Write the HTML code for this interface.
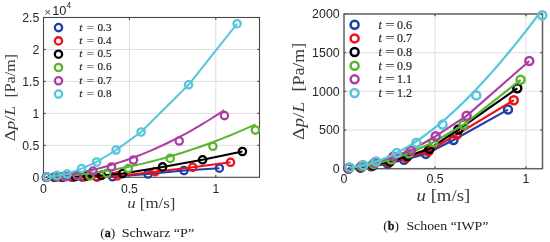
<!DOCTYPE html>
<html><head><meta charset="utf-8"><style>
html,body{margin:0;padding:0;background:#fff;width:550px;height:242px;overflow:hidden}
svg{display:block}
.tk{font-family:"Liberation Sans",Arial,sans-serif;fill:#262626}
.lg{font-family:"Liberation Serif","Times New Roman",serif;fill:#262626;stroke:#262626;stroke-width:0.2px}
.al{font-family:"Liberation Serif","Times New Roman",serif;fill:#3a3a3a}
.cap{font-family:"Liberation Serif","Times New Roman",serif;fill:#1a1a1a}
</style></head><body>
<svg width="550" height="242" viewBox="0 0 550 242">
<rect width="550" height="242" fill="#fff"/>
<line x1="129.4" y1="17.5" x2="129.4" y2="177.3" stroke="#dedede"/>
<line x1="215.8" y1="17.5" x2="215.8" y2="177.3" stroke="#dedede"/>
<line x1="43.5" y1="145.34" x2="259.5" y2="145.34" stroke="#dedede"/>
<line x1="43.5" y1="113.38" x2="259.5" y2="113.38" stroke="#dedede"/>
<line x1="43.5" y1="81.42" x2="259.5" y2="81.42" stroke="#dedede"/>
<line x1="43.5" y1="49.46" x2="259.5" y2="49.46" stroke="#dedede"/>
<line x1="43.5" y1="17.5" x2="259.5" y2="17.5" stroke="#dedede"/>
<rect x="43.5" y="17.5" width="216" height="159.8" fill="none" stroke="#474747" stroke-width="1.1"/>
<line x1="129.4" y1="177.3" x2="129.4" y2="175.1" stroke="#474747" stroke-width="1.1"/>
<line x1="129.4" y1="17.5" x2="129.4" y2="19.7" stroke="#474747" stroke-width="1.1"/>
<line x1="215.8" y1="177.3" x2="215.8" y2="175.1" stroke="#474747" stroke-width="1.1"/>
<line x1="215.8" y1="17.5" x2="215.8" y2="19.7" stroke="#474747" stroke-width="1.1"/>
<line x1="43.5" y1="145.34" x2="45.7" y2="145.34" stroke="#474747" stroke-width="1.1"/>
<line x1="259.5" y1="145.34" x2="257.3" y2="145.34" stroke="#474747" stroke-width="1.1"/>
<line x1="43.5" y1="113.38" x2="45.7" y2="113.38" stroke="#474747" stroke-width="1.1"/>
<line x1="259.5" y1="113.38" x2="257.3" y2="113.38" stroke="#474747" stroke-width="1.1"/>
<line x1="43.5" y1="81.42" x2="45.7" y2="81.42" stroke="#474747" stroke-width="1.1"/>
<line x1="259.5" y1="81.42" x2="257.3" y2="81.42" stroke="#474747" stroke-width="1.1"/>
<line x1="43.5" y1="49.46" x2="45.7" y2="49.46" stroke="#474747" stroke-width="1.1"/>
<line x1="259.5" y1="49.46" x2="257.3" y2="49.46" stroke="#474747" stroke-width="1.1"/>
<line x1="43.5" y1="17.5" x2="45.7" y2="17.5" stroke="#474747" stroke-width="1.1"/>
<line x1="259.5" y1="17.5" x2="257.3" y2="17.5" stroke="#474747" stroke-width="1.1"/>
<circle cx="58.5" cy="27.6" r="3.65" fill="none" stroke="#2140a4" stroke-width="2.3"/>
<text x="79.2" y="30.5" class="lg" style="font-size:11.2px;font-style:italic">t</text>
<text x="86.5" y="30.5" class="lg" style="font-size:11.2px;stroke:none" textLength="7.8" lengthAdjust="spacingAndGlyphs">=</text>
<text x="97.5" y="30.5" class="lg" style="font-size:11.2px">0.3</text>
<circle cx="58.5" cy="40.9" r="3.65" fill="none" stroke="#f0101c" stroke-width="2.3"/>
<text x="79.2" y="43.8" class="lg" style="font-size:11.2px;font-style:italic">t</text>
<text x="86.5" y="43.8" class="lg" style="font-size:11.2px;stroke:none" textLength="7.8" lengthAdjust="spacingAndGlyphs">=</text>
<text x="97.5" y="43.8" class="lg" style="font-size:11.2px">0.4</text>
<circle cx="58.5" cy="54.2" r="3.65" fill="none" stroke="#000000" stroke-width="2.3"/>
<text x="79.2" y="57.1" class="lg" style="font-size:11.2px;font-style:italic">t</text>
<text x="86.5" y="57.1" class="lg" style="font-size:11.2px;stroke:none" textLength="7.8" lengthAdjust="spacingAndGlyphs">=</text>
<text x="97.5" y="57.1" class="lg" style="font-size:11.2px">0.5</text>
<circle cx="58.5" cy="67.5" r="3.65" fill="none" stroke="#5ab52e" stroke-width="2.3"/>
<text x="79.2" y="70.4" class="lg" style="font-size:11.2px;font-style:italic">t</text>
<text x="86.5" y="70.4" class="lg" style="font-size:11.2px;stroke:none" textLength="7.8" lengthAdjust="spacingAndGlyphs">=</text>
<text x="97.5" y="70.4" class="lg" style="font-size:11.2px">0.6</text>
<circle cx="58.5" cy="80.8" r="3.65" fill="none" stroke="#ae3ca6" stroke-width="2.3"/>
<text x="79.2" y="83.7" class="lg" style="font-size:11.2px;font-style:italic">t</text>
<text x="86.5" y="83.7" class="lg" style="font-size:11.2px;stroke:none" textLength="7.8" lengthAdjust="spacingAndGlyphs">=</text>
<text x="97.5" y="83.7" class="lg" style="font-size:11.2px">0.7</text>
<circle cx="58.5" cy="94.1" r="3.65" fill="none" stroke="#57c6da" stroke-width="2.3"/>
<text x="79.2" y="97" class="lg" style="font-size:11.2px;font-style:italic">t</text>
<text x="86.5" y="97" class="lg" style="font-size:11.2px;stroke:none" textLength="7.8" lengthAdjust="spacingAndGlyphs">=</text>
<text x="97.5" y="97" class="lg" style="font-size:11.2px">0.8</text>
<polyline points="46.31,177.31 54.03,177.32 61.05,177.3 71.58,177.19 82.11,177.01 96.15,176.66 112.6,176.8 148.1,174 184,170.5 219.4,168.2" fill="none" stroke="#2140a4" stroke-width="2.0" stroke-linejoin="round"/>
<circle cx="219.4" cy="168.2" r="3.65" fill="none" stroke="#2140a4" stroke-width="2.3"/>
<circle cx="184" cy="170.5" r="3.65" fill="none" stroke="#2140a4" stroke-width="2.3"/>
<circle cx="148.1" cy="174" r="3.65" fill="none" stroke="#2140a4" stroke-width="2.3"/>
<circle cx="112.6" cy="176.8" r="3.65" fill="none" stroke="#2140a4" stroke-width="2.3"/>
<circle cx="96.15" cy="176.66" r="3.65" fill="none" stroke="#2140a4" stroke-width="2.3"/>
<circle cx="82.11" cy="177.01" r="3.65" fill="none" stroke="#2140a4" stroke-width="2.3"/>
<circle cx="71.58" cy="177.19" r="3.65" fill="none" stroke="#2140a4" stroke-width="2.3"/>
<circle cx="61.05" cy="177.3" r="3.65" fill="none" stroke="#2140a4" stroke-width="2.3"/>
<circle cx="54.03" cy="177.32" r="3.65" fill="none" stroke="#2140a4" stroke-width="2.3"/>
<circle cx="46.31" cy="177.31" r="3.65" fill="none" stroke="#2140a4" stroke-width="2.3"/>
<polyline points="46.49,177.33 54.72,177.37 62.2,177.35 73.42,177.21 84.64,176.94 97.2,177.1 117.5,175.9 155.2,171.7 192.7,167.3 230.5,162.3" fill="none" stroke="#f0101c" stroke-width="2.0" stroke-linejoin="round"/>
<circle cx="230.5" cy="162.3" r="3.65" fill="none" stroke="#f0101c" stroke-width="2.3"/>
<circle cx="192.7" cy="167.3" r="3.65" fill="none" stroke="#f0101c" stroke-width="2.3"/>
<circle cx="155.2" cy="171.7" r="3.65" fill="none" stroke="#f0101c" stroke-width="2.3"/>
<circle cx="117.5" cy="175.9" r="3.65" fill="none" stroke="#f0101c" stroke-width="2.3"/>
<circle cx="97.2" cy="177.1" r="3.65" fill="none" stroke="#f0101c" stroke-width="2.3"/>
<circle cx="84.64" cy="176.94" r="3.65" fill="none" stroke="#f0101c" stroke-width="2.3"/>
<circle cx="73.42" cy="177.21" r="3.65" fill="none" stroke="#f0101c" stroke-width="2.3"/>
<circle cx="62.2" cy="177.35" r="3.65" fill="none" stroke="#f0101c" stroke-width="2.3"/>
<circle cx="54.72" cy="177.37" r="3.65" fill="none" stroke="#f0101c" stroke-width="2.3"/>
<circle cx="46.49" cy="177.33" r="3.65" fill="none" stroke="#f0101c" stroke-width="2.3"/>
<polyline points="46.68,177.28 55.44,177.15 63.4,176.95 75.34,176.5 87.28,175.87 101.5,175.4 122.6,173.6 162.6,166.9 202.6,159.8 242.4,151.5" fill="none" stroke="#000000" stroke-width="2.0" stroke-linejoin="round"/>
<circle cx="242.4" cy="151.5" r="3.65" fill="none" stroke="#000000" stroke-width="2.3"/>
<circle cx="202.6" cy="159.8" r="3.65" fill="none" stroke="#000000" stroke-width="2.3"/>
<circle cx="162.6" cy="166.9" r="3.65" fill="none" stroke="#000000" stroke-width="2.3"/>
<circle cx="122.6" cy="173.6" r="3.65" fill="none" stroke="#000000" stroke-width="2.3"/>
<circle cx="101.5" cy="175.4" r="3.65" fill="none" stroke="#000000" stroke-width="2.3"/>
<circle cx="87.28" cy="175.87" r="3.65" fill="none" stroke="#000000" stroke-width="2.3"/>
<circle cx="75.34" cy="176.5" r="3.65" fill="none" stroke="#000000" stroke-width="2.3"/>
<circle cx="63.4" cy="176.95" r="3.65" fill="none" stroke="#000000" stroke-width="2.3"/>
<circle cx="55.44" cy="177.15" r="3.65" fill="none" stroke="#000000" stroke-width="2.3"/>
<circle cx="46.68" cy="177.28" r="3.65" fill="none" stroke="#000000" stroke-width="2.3"/>
<polyline points="46.89,177.15 51.15,176.94 55.41,176.68 59.66,176.4 63.92,176.07 68.18,175.71 72.44,175.32 76.69,174.89 80.95,174.42 85.21,173.91 89.47,173.38 93.72,172.8 97.98,172.19 102.24,171.54 106.49,170.86 110.75,170.14 115.01,169.39 119.27,168.6 123.52,167.77 127.78,166.91 132.04,166.01 136.3,165.08 140.55,164.11 144.81,163.1 149.07,162.06 153.32,160.98 157.58,159.87 161.84,158.72 166.1,157.53 170.35,156.31 174.61,155.06 178.87,153.76 183.13,152.43 187.38,151.07 191.64,149.67 195.9,148.23 200.16,146.76 204.41,145.25 208.67,143.71 212.93,142.13 217.18,140.51 221.44,138.86 225.7,137.17 229.96,135.45 234.21,133.69 238.47,131.9 242.73,130.07 246.99,128.2 251.24,126.3 255.5,124.36" fill="none" stroke="#5ab52e" stroke-width="2.0" stroke-linejoin="round"/>
<circle cx="255.4" cy="130.1" r="3.65" fill="none" stroke="#5ab52e" stroke-width="2.3"/>
<circle cx="212.9" cy="146.3" r="3.65" fill="none" stroke="#5ab52e" stroke-width="2.3"/>
<circle cx="170.2" cy="158.4" r="3.65" fill="none" stroke="#5ab52e" stroke-width="2.3"/>
<circle cx="128.3" cy="168.6" r="3.65" fill="none" stroke="#5ab52e" stroke-width="2.3"/>
<circle cx="106.8" cy="173.3" r="3.65" fill="none" stroke="#5ab52e" stroke-width="2.3"/>
<circle cx="90" cy="175.9" r="3.65" fill="none" stroke="#5ab52e" stroke-width="2.3"/>
<circle cx="77.42" cy="175.71" r="3.65" fill="none" stroke="#5ab52e" stroke-width="2.3"/>
<circle cx="64.7" cy="176.57" r="3.65" fill="none" stroke="#5ab52e" stroke-width="2.3"/>
<circle cx="56.22" cy="176.97" r="3.65" fill="none" stroke="#5ab52e" stroke-width="2.3"/>
<circle cx="46.89" cy="177.24" r="3.65" fill="none" stroke="#5ab52e" stroke-width="2.3"/>
<polyline points="47.12,177.03 50.73,176.71 54.35,176.35 57.96,175.95 61.58,175.5 65.2,175.01 68.81,174.47 72.43,173.89 76.04,173.27 79.66,172.6 83.28,171.89 86.89,171.14 90.51,170.34 94.12,169.5 97.74,168.61 101.36,167.69 104.97,166.71 108.59,165.7 112.2,164.64 115.82,163.53 119.44,162.39 123.05,161.19 126.67,159.96 130.28,158.68 133.9,157.36 137.52,155.99 141.13,154.58 144.75,153.13 148.36,151.63 151.98,150.09 155.6,148.51 159.21,146.88 162.83,145.21 166.44,143.49 170.06,141.73 173.68,139.93 177.29,138.08 180.91,136.19 184.52,134.26 188.14,132.28 191.76,130.26 195.37,128.19 198.99,126.08 202.6,123.93 206.22,121.73 209.84,119.49 213.45,117.21 217.07,114.88 220.68,112.51 224.3,110.09" fill="none" stroke="#ae3ca6" stroke-width="2.0" stroke-linejoin="round"/>
<circle cx="224.4" cy="115.6" r="3.65" fill="none" stroke="#ae3ca6" stroke-width="2.3"/>
<circle cx="179.2" cy="141" r="3.65" fill="none" stroke="#ae3ca6" stroke-width="2.3"/>
<circle cx="133.5" cy="160" r="3.65" fill="none" stroke="#ae3ca6" stroke-width="2.3"/>
<circle cx="111.5" cy="167" r="3.65" fill="none" stroke="#ae3ca6" stroke-width="2.3"/>
<circle cx="93" cy="171.1" r="3.65" fill="none" stroke="#ae3ca6" stroke-width="2.3"/>
<circle cx="77" cy="175.3" r="3.65" fill="none" stroke="#ae3ca6" stroke-width="2.3"/>
<circle cx="66.5" cy="176.6" r="3.65" fill="none" stroke="#ae3ca6" stroke-width="2.3"/>
<circle cx="57.06" cy="176.53" r="3.65" fill="none" stroke="#ae3ca6" stroke-width="2.3"/>
<circle cx="47.12" cy="177.16" r="3.65" fill="none" stroke="#ae3ca6" stroke-width="2.3"/>
<polyline points="47.2,177 57,175.4 67,174 81.6,168.6 96.6,162 116,150.1 141.1,132 188.6,84.8 237.1,23.7" fill="none" stroke="#57c6da" stroke-width="2.0" stroke-linejoin="round"/>
<circle cx="237.1" cy="23.7" r="3.65" fill="none" stroke="#57c6da" stroke-width="2.3"/>
<circle cx="188.6" cy="84.8" r="3.65" fill="none" stroke="#57c6da" stroke-width="2.3"/>
<circle cx="141.1" cy="132" r="3.65" fill="none" stroke="#57c6da" stroke-width="2.3"/>
<circle cx="116" cy="150.1" r="3.65" fill="none" stroke="#57c6da" stroke-width="2.3"/>
<circle cx="96.6" cy="162" r="3.65" fill="none" stroke="#57c6da" stroke-width="2.3"/>
<circle cx="81.6" cy="168.6" r="3.65" fill="none" stroke="#57c6da" stroke-width="2.3"/>
<circle cx="67" cy="174" r="3.65" fill="none" stroke="#57c6da" stroke-width="2.3"/>
<circle cx="57" cy="175.4" r="3.65" fill="none" stroke="#57c6da" stroke-width="2.3"/>
<circle cx="47.2" cy="177" r="3.65" fill="none" stroke="#57c6da" stroke-width="2.3"/>
<text x="39.2" y="181.69" class="tk" style="font-size:12.2px" text-anchor="end">0</text>
<text x="39.2" y="149.73" class="tk" style="font-size:12.2px" text-anchor="end">0.5</text>
<text x="39.2" y="117.77" class="tk" style="font-size:12.2px" text-anchor="end">1</text>
<text x="39.2" y="85.81" class="tk" style="font-size:12.2px" text-anchor="end">1.5</text>
<text x="39.2" y="53.85" class="tk" style="font-size:12.2px" text-anchor="end">2</text>
<text x="39.2" y="21.89" class="tk" style="font-size:12.2px" text-anchor="end">2.5</text>
<text x="43.5" y="193" class="tk" style="font-size:12.2px" text-anchor="middle">0</text>
<text x="129.4" y="193" class="tk" style="font-size:12.2px" text-anchor="middle">0.5</text>
<text x="215.8" y="193" class="tk" style="font-size:12.2px" text-anchor="middle">1</text>
<text x="44.3" y="16.2" class="tk" style="font-size:11.5px;fill:#444">×</text><text x="52.2" y="14.9" class="tk" style="font-size:12.8px">10</text><text x="66.6" y="8.4" class="tk" style="font-size:8.3px">4</text>
<text class="al" style="font-size:15px" transform="translate(14.6,141.2) rotate(-90)" textLength="35.5" lengthAdjust="spacingAndGlyphs">Δ<tspan font-style="italic">p</tspan>/<tspan font-style="italic">L</tspan></text>
<text class="al" style="font-size:15px" transform="translate(14.6,97.6) rotate(-90)" textLength="43.5" lengthAdjust="spacingAndGlyphs">[Pa/m]</text>
<text class="al" style="font-size:15px" x="127.2" y="208.3" textLength="48.3" lengthAdjust="spacingAndGlyphs"><tspan font-style="italic">u</tspan> [m/s]</text>
<text class="cap" style="font-size:12px" x="100.3" y="236.6"><tspan style="font-size:13.5px">(</tspan><tspan font-weight="bold" style="stroke:#1a1a1a;stroke-width:0.35px">a</tspan><tspan style="font-size:13.5px">)</tspan></text>
<text class="cap" style="font-size:12px" x="121.7" y="236.6" textLength="72.5" lengthAdjust="spacingAndGlyphs">Schwarz “P”</text>
<line x1="435" y1="14.0" x2="435" y2="168.7" stroke="#dedede"/>
<line x1="525.99" y1="14.0" x2="525.99" y2="168.7" stroke="#dedede"/>
<line x1="344.0" y1="130.02" x2="542.5" y2="130.02" stroke="#dedede"/>
<line x1="344.0" y1="91.35" x2="542.5" y2="91.35" stroke="#dedede"/>
<line x1="344.0" y1="52.67" x2="542.5" y2="52.67" stroke="#dedede"/>
<line x1="344.0" y1="14" x2="542.5" y2="14" stroke="#dedede"/>
<rect x="344.0" y="14.0" width="198.5" height="154.7" fill="none" stroke="#606060" stroke-width="1.5"/>
<line x1="435" y1="168.7" x2="435" y2="166.5" stroke="#606060" stroke-width="1.5"/>
<line x1="435" y1="14.0" x2="435" y2="16.2" stroke="#606060" stroke-width="1.5"/>
<line x1="525.99" y1="168.7" x2="525.99" y2="166.5" stroke="#606060" stroke-width="1.5"/>
<line x1="525.99" y1="14.0" x2="525.99" y2="16.2" stroke="#606060" stroke-width="1.5"/>
<line x1="344.0" y1="130.02" x2="346.2" y2="130.02" stroke="#606060" stroke-width="1.5"/>
<line x1="542.5" y1="130.02" x2="540.3" y2="130.02" stroke="#606060" stroke-width="1.5"/>
<line x1="344.0" y1="91.35" x2="346.2" y2="91.35" stroke="#606060" stroke-width="1.5"/>
<line x1="542.5" y1="91.35" x2="540.3" y2="91.35" stroke="#606060" stroke-width="1.5"/>
<line x1="344.0" y1="52.67" x2="346.2" y2="52.67" stroke="#606060" stroke-width="1.5"/>
<line x1="542.5" y1="52.67" x2="540.3" y2="52.67" stroke="#606060" stroke-width="1.5"/>
<line x1="344.0" y1="14" x2="346.2" y2="14" stroke="#606060" stroke-width="1.5"/>
<line x1="542.5" y1="14" x2="540.3" y2="14" stroke="#606060" stroke-width="1.5"/>
<circle cx="354.6" cy="24.75" r="4.0" fill="none" stroke="#2140a4" stroke-width="2.5"/>
<text x="378.4" y="28.65" class="lg" style="font-size:12.0px;font-style:italic">t</text>
<text x="385" y="28.65" class="lg" style="font-size:12.0px;stroke:none" textLength="9.8" lengthAdjust="spacingAndGlyphs">=</text>
<text x="397.1" y="28.65" class="lg" style="font-size:12.0px">0.6</text>
<circle cx="354.6" cy="38.4" r="4.0" fill="none" stroke="#f0101c" stroke-width="2.5"/>
<text x="378.4" y="42.3" class="lg" style="font-size:12.0px;font-style:italic">t</text>
<text x="385" y="42.3" class="lg" style="font-size:12.0px;stroke:none" textLength="9.8" lengthAdjust="spacingAndGlyphs">=</text>
<text x="397.1" y="42.3" class="lg" style="font-size:12.0px">0.7</text>
<circle cx="354.6" cy="52.05" r="4.0" fill="none" stroke="#000000" stroke-width="2.5"/>
<text x="378.4" y="55.95" class="lg" style="font-size:12.0px;font-style:italic">t</text>
<text x="385" y="55.95" class="lg" style="font-size:12.0px;stroke:none" textLength="9.8" lengthAdjust="spacingAndGlyphs">=</text>
<text x="397.1" y="55.95" class="lg" style="font-size:12.0px">0.8</text>
<circle cx="354.6" cy="65.7" r="4.0" fill="none" stroke="#5ab52e" stroke-width="2.5"/>
<text x="378.4" y="69.6" class="lg" style="font-size:12.0px;font-style:italic">t</text>
<text x="385" y="69.6" class="lg" style="font-size:12.0px;stroke:none" textLength="9.8" lengthAdjust="spacingAndGlyphs">=</text>
<text x="397.1" y="69.6" class="lg" style="font-size:12.0px">0.9</text>
<circle cx="354.6" cy="79.35" r="4.0" fill="none" stroke="#ae3ca6" stroke-width="2.5"/>
<text x="378.4" y="83.25" class="lg" style="font-size:12.0px;font-style:italic">t</text>
<text x="385" y="83.25" class="lg" style="font-size:12.0px;stroke:none" textLength="9.8" lengthAdjust="spacingAndGlyphs">=</text>
<text x="397.1" y="83.25" class="lg" style="font-size:12.0px">1.1</text>
<circle cx="354.6" cy="93" r="4.0" fill="none" stroke="#57c6da" stroke-width="2.5"/>
<text x="378.4" y="96.9" class="lg" style="font-size:12.0px;font-style:italic">t</text>
<text x="385" y="96.9" class="lg" style="font-size:12.0px;stroke:none" textLength="9.8" lengthAdjust="spacingAndGlyphs">=</text>
<text x="397.1" y="96.9" class="lg" style="font-size:12.0px">1.2</text>
<polyline points="348.37,168.45 360.38,167.63 371.3,166.37 387.68,163.57 404.06,159.67 425.8,153.9 453.5,140 508,109.6" fill="none" stroke="#2140a4" stroke-width="2.2" stroke-linejoin="round"/>
<circle cx="508" cy="109.6" r="4.0" fill="none" stroke="#2140a4" stroke-width="2.5"/>
<circle cx="453.5" cy="140" r="4.0" fill="none" stroke="#2140a4" stroke-width="2.5"/>
<circle cx="425.8" cy="153.9" r="4.0" fill="none" stroke="#2140a4" stroke-width="2.5"/>
<circle cx="404.06" cy="159.67" r="4.0" fill="none" stroke="#2140a4" stroke-width="2.5"/>
<circle cx="387.68" cy="163.57" r="4.0" fill="none" stroke="#2140a4" stroke-width="2.5"/>
<circle cx="371.3" cy="166.37" r="4.0" fill="none" stroke="#2140a4" stroke-width="2.5"/>
<circle cx="360.38" cy="167.63" r="4.0" fill="none" stroke="#2140a4" stroke-width="2.5"/>
<circle cx="348.37" cy="168.45" r="4.0" fill="none" stroke="#2140a4" stroke-width="2.5"/>
<polyline points="348.53,168.35 360.98,167.2 372.3,165.59 389.28,162.16 406.26,157.51 428.3,151.4 456.8,134.5 513.8,100.2" fill="none" stroke="#f0101c" stroke-width="2.2" stroke-linejoin="round"/>
<circle cx="513.8" cy="100.2" r="4.0" fill="none" stroke="#f0101c" stroke-width="2.5"/>
<circle cx="456.8" cy="134.5" r="4.0" fill="none" stroke="#f0101c" stroke-width="2.5"/>
<circle cx="428.3" cy="151.4" r="4.0" fill="none" stroke="#f0101c" stroke-width="2.5"/>
<circle cx="406.26" cy="157.51" r="4.0" fill="none" stroke="#f0101c" stroke-width="2.5"/>
<circle cx="389.28" cy="162.16" r="4.0" fill="none" stroke="#f0101c" stroke-width="2.5"/>
<circle cx="372.3" cy="165.59" r="4.0" fill="none" stroke="#f0101c" stroke-width="2.5"/>
<circle cx="360.98" cy="167.2" r="4.0" fill="none" stroke="#f0101c" stroke-width="2.5"/>
<circle cx="348.53" cy="168.35" r="4.0" fill="none" stroke="#f0101c" stroke-width="2.5"/>
<polyline points="348.62,168.34 361.31,167.09 372.85,165.27 390.16,161.33 407.47,155.94 429.5,148.9 458.4,129.5 517.3,88.3" fill="none" stroke="#000000" stroke-width="2.2" stroke-linejoin="round"/>
<circle cx="517.3" cy="88.3" r="4.0" fill="none" stroke="#000000" stroke-width="2.5"/>
<circle cx="458.4" cy="129.5" r="4.0" fill="none" stroke="#000000" stroke-width="2.5"/>
<circle cx="429.5" cy="148.9" r="4.0" fill="none" stroke="#000000" stroke-width="2.5"/>
<circle cx="407.47" cy="155.94" r="4.0" fill="none" stroke="#000000" stroke-width="2.5"/>
<circle cx="390.16" cy="161.33" r="4.0" fill="none" stroke="#000000" stroke-width="2.5"/>
<circle cx="372.85" cy="165.27" r="4.0" fill="none" stroke="#000000" stroke-width="2.5"/>
<circle cx="361.31" cy="167.09" r="4.0" fill="none" stroke="#000000" stroke-width="2.5"/>
<circle cx="348.62" cy="168.34" r="4.0" fill="none" stroke="#000000" stroke-width="2.5"/>
<polyline points="348.72,168.17 361.7,166.43 373.5,164.16 391.2,159.49 408.9,153.32 433.5,142.3 463.5,124.8 520.6,79.8" fill="none" stroke="#5ab52e" stroke-width="2.2" stroke-linejoin="round"/>
<circle cx="520.6" cy="79.8" r="4.0" fill="none" stroke="#5ab52e" stroke-width="2.5"/>
<circle cx="463.5" cy="124.8" r="4.0" fill="none" stroke="#5ab52e" stroke-width="2.5"/>
<circle cx="433.5" cy="142.3" r="4.0" fill="none" stroke="#5ab52e" stroke-width="2.5"/>
<circle cx="408.9" cy="153.32" r="4.0" fill="none" stroke="#5ab52e" stroke-width="2.5"/>
<circle cx="391.2" cy="159.49" r="4.0" fill="none" stroke="#5ab52e" stroke-width="2.5"/>
<circle cx="373.5" cy="164.16" r="4.0" fill="none" stroke="#5ab52e" stroke-width="2.5"/>
<circle cx="361.7" cy="166.43" r="4.0" fill="none" stroke="#5ab52e" stroke-width="2.5"/>
<circle cx="348.72" cy="168.17" r="4.0" fill="none" stroke="#5ab52e" stroke-width="2.5"/>
<polyline points="348.93,167.95 362.48,165.53 374.8,162.53 393.28,156.62 411,150.4 435.7,136.2 466.6,115.8 529.3,61" fill="none" stroke="#ae3ca6" stroke-width="2.2" stroke-linejoin="round"/>
<circle cx="529.3" cy="61" r="4.0" fill="none" stroke="#ae3ca6" stroke-width="2.5"/>
<circle cx="466.6" cy="115.8" r="4.0" fill="none" stroke="#ae3ca6" stroke-width="2.5"/>
<circle cx="435.7" cy="136.2" r="4.0" fill="none" stroke="#ae3ca6" stroke-width="2.5"/>
<circle cx="411" cy="150.4" r="4.0" fill="none" stroke="#ae3ca6" stroke-width="2.5"/>
<circle cx="393.28" cy="156.62" r="4.0" fill="none" stroke="#ae3ca6" stroke-width="2.5"/>
<circle cx="374.8" cy="162.53" r="4.0" fill="none" stroke="#ae3ca6" stroke-width="2.5"/>
<circle cx="362.48" cy="165.53" r="4.0" fill="none" stroke="#ae3ca6" stroke-width="2.5"/>
<circle cx="348.93" cy="167.95" r="4.0" fill="none" stroke="#ae3ca6" stroke-width="2.5"/>
<polyline points="349.3,167.33 352.53,167 355.76,166.57 358.99,166.04 362.23,165.41 365.46,164.69 368.69,163.87 371.92,162.95 375.15,161.94 378.39,160.83 381.62,159.64 384.85,158.35 388.08,156.97 391.32,155.51 394.55,153.96 397.78,152.32 401.01,150.6 404.24,148.79 407.48,146.9 410.71,144.93 413.94,142.88 417.17,140.75 420.41,138.54 423.64,136.26 426.87,133.9 430.1,131.47 433.34,128.96 436.57,126.38 439.8,123.73 443.03,121.01 446.26,118.22 449.5,115.36 452.73,112.44 455.96,109.45 459.19,106.4 462.43,103.29 465.66,100.11 468.89,96.87 472.12,93.58 475.35,90.22 478.59,86.81 481.82,83.34 485.05,79.82 488.28,76.24 491.52,72.61 494.75,68.93 497.98,65.2 501.21,61.42 504.45,57.6 507.68,53.72 510.91,49.8 514.14,45.84 517.37,41.83 520.61,37.78 523.84,33.69 527.07,29.57 530.3,25.4 533.54,21.19 536.77,16.95 540,12.67" fill="none" stroke="#57c6da" stroke-width="2.2" stroke-linejoin="round"/>
<circle cx="542.3" cy="15.2" r="4.0" fill="none" stroke="#57c6da" stroke-width="2.5"/>
<circle cx="476.3" cy="95.4" r="4.0" fill="none" stroke="#57c6da" stroke-width="2.5"/>
<circle cx="442.6" cy="124.6" r="4.0" fill="none" stroke="#57c6da" stroke-width="2.5"/>
<circle cx="416.4" cy="142.7" r="4.0" fill="none" stroke="#57c6da" stroke-width="2.5"/>
<circle cx="396.8" cy="153" r="4.0" fill="none" stroke="#57c6da" stroke-width="2.5"/>
<circle cx="376" cy="161.4" r="4.0" fill="none" stroke="#57c6da" stroke-width="2.5"/>
<circle cx="363.5" cy="165.2" r="4.0" fill="none" stroke="#57c6da" stroke-width="2.5"/>
<circle cx="349.6" cy="167.4" r="4.0" fill="none" stroke="#57c6da" stroke-width="2.5"/>
<text x="339.7" y="173.16" class="tk" style="font-size:12.4px" text-anchor="end">0</text>
<text x="339.7" y="134.49" class="tk" style="font-size:12.4px" text-anchor="end">500</text>
<text x="339.7" y="95.81" class="tk" style="font-size:12.4px" text-anchor="end">1000</text>
<text x="339.7" y="57.14" class="tk" style="font-size:12.4px" text-anchor="end">1500</text>
<text x="339.7" y="18.46" class="tk" style="font-size:12.4px" text-anchor="end">2000</text>
<text x="344" y="183.4" class="tk" style="font-size:12.4px" text-anchor="middle">0</text>
<text x="435" y="183.4" class="tk" style="font-size:12.4px" text-anchor="middle">0.5</text>
<text x="525.99" y="183.4" class="tk" style="font-size:12.4px" text-anchor="middle">1</text>
<text class="al" style="font-size:16.7px" transform="translate(304.2,139.9) rotate(-90)" textLength="38" lengthAdjust="spacingAndGlyphs">Δ<tspan font-style="italic">p</tspan>/<tspan font-style="italic">L</tspan></text>
<text class="al" style="font-size:16.7px" transform="translate(304.2,91.4) rotate(-90)" textLength="48.5" lengthAdjust="spacingAndGlyphs">[Pa/m]</text>
<text class="al" style="font-size:16.7px" x="416.6" y="201.4" textLength="53.6" lengthAdjust="spacingAndGlyphs"><tspan font-style="italic">u</tspan> [m/s]</text>
<text class="cap" style="font-size:12px" x="383.3" y="229.7"><tspan style="font-size:13.5px">(</tspan><tspan font-weight="bold" style="stroke:#1a1a1a;stroke-width:0.35px">b</tspan><tspan style="font-size:13.5px">)</tspan></text>
<text class="cap" style="font-size:12px" x="406.4" y="229.7" textLength="82" lengthAdjust="spacingAndGlyphs">Schoen “IWP”</text>
</svg>
</body></html>
